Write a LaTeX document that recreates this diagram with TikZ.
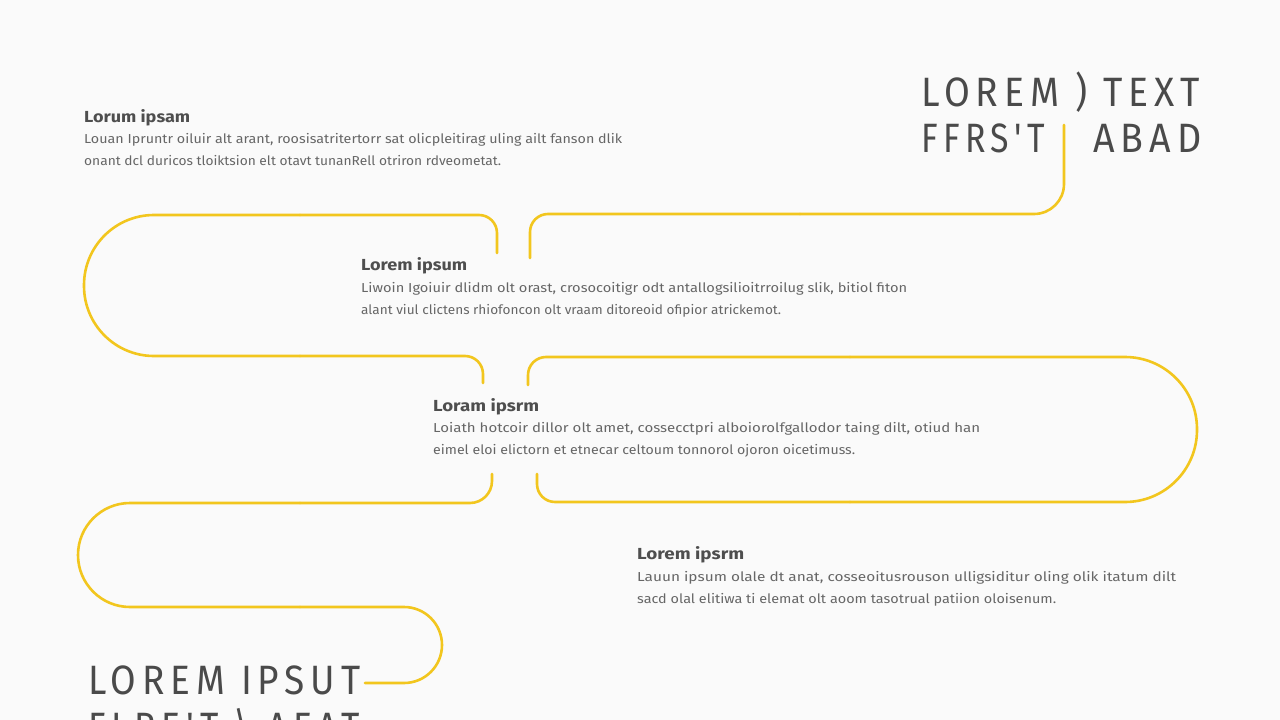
\documentclass[tikz,border=0pt]{standalone}
\usepackage{fontspec}
\usepackage{graphicx}
\setmainfont{Fira Sans}
\newfontfamily\headfont[LetterSpace=16]{Fira Sans}
\definecolor{bgcol}{HTML}{FAFAFA}
\definecolor{lineyellow}{HTML}{F2C61E}
\definecolor{headgray}{HTML}{4A4A4A}
\definecolor{titlegray}{HTML}{4E4E4E}
\definecolor{bodygray}{HTML}{666666}
\newcommand{\fitw}[2]{\resizebox{#1}{\height}{#2}}
\begin{document}
\begin{tikzpicture}[x=1pt,y=-1pt,
  yl/.style={draw=lineyellow, line width=2.6pt, line cap=round},
  ttl/.style={anchor=base west, inner sep=0pt, text=titlegray, font=\bfseries\fontsize{16}{16}\selectfont},
  bodytxt/.style={anchor=base west, inner sep=0pt, text=bodygray, font=\fontsize{13}{13}\selectfont},
  head/.style={anchor=base west, inner sep=0pt, text=headgray, font=\headfont\fontsize{41}{41}\selectfont}]
\fill[bgcol] (0,0) rectangle (1280,720);
\useasboundingbox (0,0) rectangle (1280,720);
\clip (0,0) rectangle (1280,720);

% path end points
\coordinate (s1) at (1064,125);
\coordinate (e1) at (530,258);
\coordinate (s2) at (497,253);
\coordinate (e2) at (483,383);
\coordinate (s3) at (528,385);
\coordinate (e3) at (537,474);
\coordinate (s4) at (492,474);
\coordinate (e4) at (365,683);

% segment 1
\draw[yl, rounded corners=30] (s1) -- (1064,214) -- (800,214);
\draw[yl, rounded corners=18] (800,214) -- (530,214) -- (e1);
% segment 2
\draw[yl, rounded corners=18] (s2) -- (497,215) -- (300,215);
\draw[yl, rounded corners=70] (300,215) -- (84,215) -- (84,356) -- (300,356);
\draw[yl, rounded corners=18] (300,356) -- (483,356) -- (e2);
% segment 3
\draw[yl, rounded corners=18] (s3) -- (528,357) -- (850,357);
\draw[yl, rounded corners=72] (850,357) -- (1197,357) -- (1197,502) -- (850,502);
\draw[yl, rounded corners=18] (850,502) -- (537,502) -- (e3);
% segment 4
\draw[yl, rounded corners=22] (s4) -- (492,503) -- (300,503);
\draw[yl, rounded corners=52] (300,503) -- (78,503) -- (78,607) -- (300,607);
\draw[yl, rounded corners=38] (300,607) -- (442,607) -- (442,683) -- (e4);

% headings
\node[head] (h1) at (921,106) {\fitw{279pt}{LOREM ) TEXT}};
\node[head] (h2) at (921,152) {\fitw{124pt}{FFRS'T}};
\node[head] (h3) at (1093,152) {\fitw{108pt}{ABAD}};
\node[head] (h4) at (88,694) {\fitw{272pt}{LOREM IPSUT}};
\node[head] (h5) at (88,741) {\fitw{272pt}{FLRE'T \textbackslash{} AEAT}};

% block 1
\node[ttl] (t1) at (84,122) {\fitw{106pt}{Lorum ipsam}};
\node[bodytxt] (b1a) at (84,143) {\fitw{538pt}{Louan Ipruntr oiluir alt arant, roosisatritertorr sat olicpleitirag uling ailt fanson dlik}};
\node[bodytxt] (b1b) at (84,165) {\fitw{417pt}{onant dcl duricos tloiktsion elt otavt tunanRell otriron rdveometat.}};
% block 2
\node[ttl] (t2) at (361,270) {\fitw{106pt}{Lorem ipsum}};
\node[bodytxt] (b2a) at (361,292) {\fitw{546pt}{Liwoin Igoiuir dlidm olt orast, crosocoitigr odt antallogsilioitrroilug slik, bitiol fiton}};
\node[bodytxt] (b2b) at (361,314) {\fitw{420pt}{alant viul clictens rhiofoncon olt vraam ditoreoid ofipior atrickemot.}};
% block 3
\node[ttl] (t3) at (433,411) {\fitw{106pt}{Loram ipsrm}};
\node[bodytxt] (b3a) at (433,432) {\fitw{547pt}{Loiath hotcoir dillor olt amet, cossecctpri alboiorolfgallodor taing dilt, otiud han}};
\node[bodytxt] (b3b) at (433,454) {\fitw{422pt}{eimel eloi elictorn et etnecar celtoum tonnorol ojoron oicetimuss.}};
% block 4
\node[ttl] (t4) at (637,559) {\fitw{107pt}{Lorem ipsrm}};
\node[bodytxt] (b4a) at (637,581) {\fitw{539pt}{Lauun ipsum olale dt anat, cosseoitusrouson ulligsiditur oling olik itatum dilt}};
\node[bodytxt] (b4b) at (637,603) {\fitw{419pt}{sacd olal elitiwa ti elemat olt aoom tasotrual patiion oloisenum.}};
\end{tikzpicture}
\end{document}
